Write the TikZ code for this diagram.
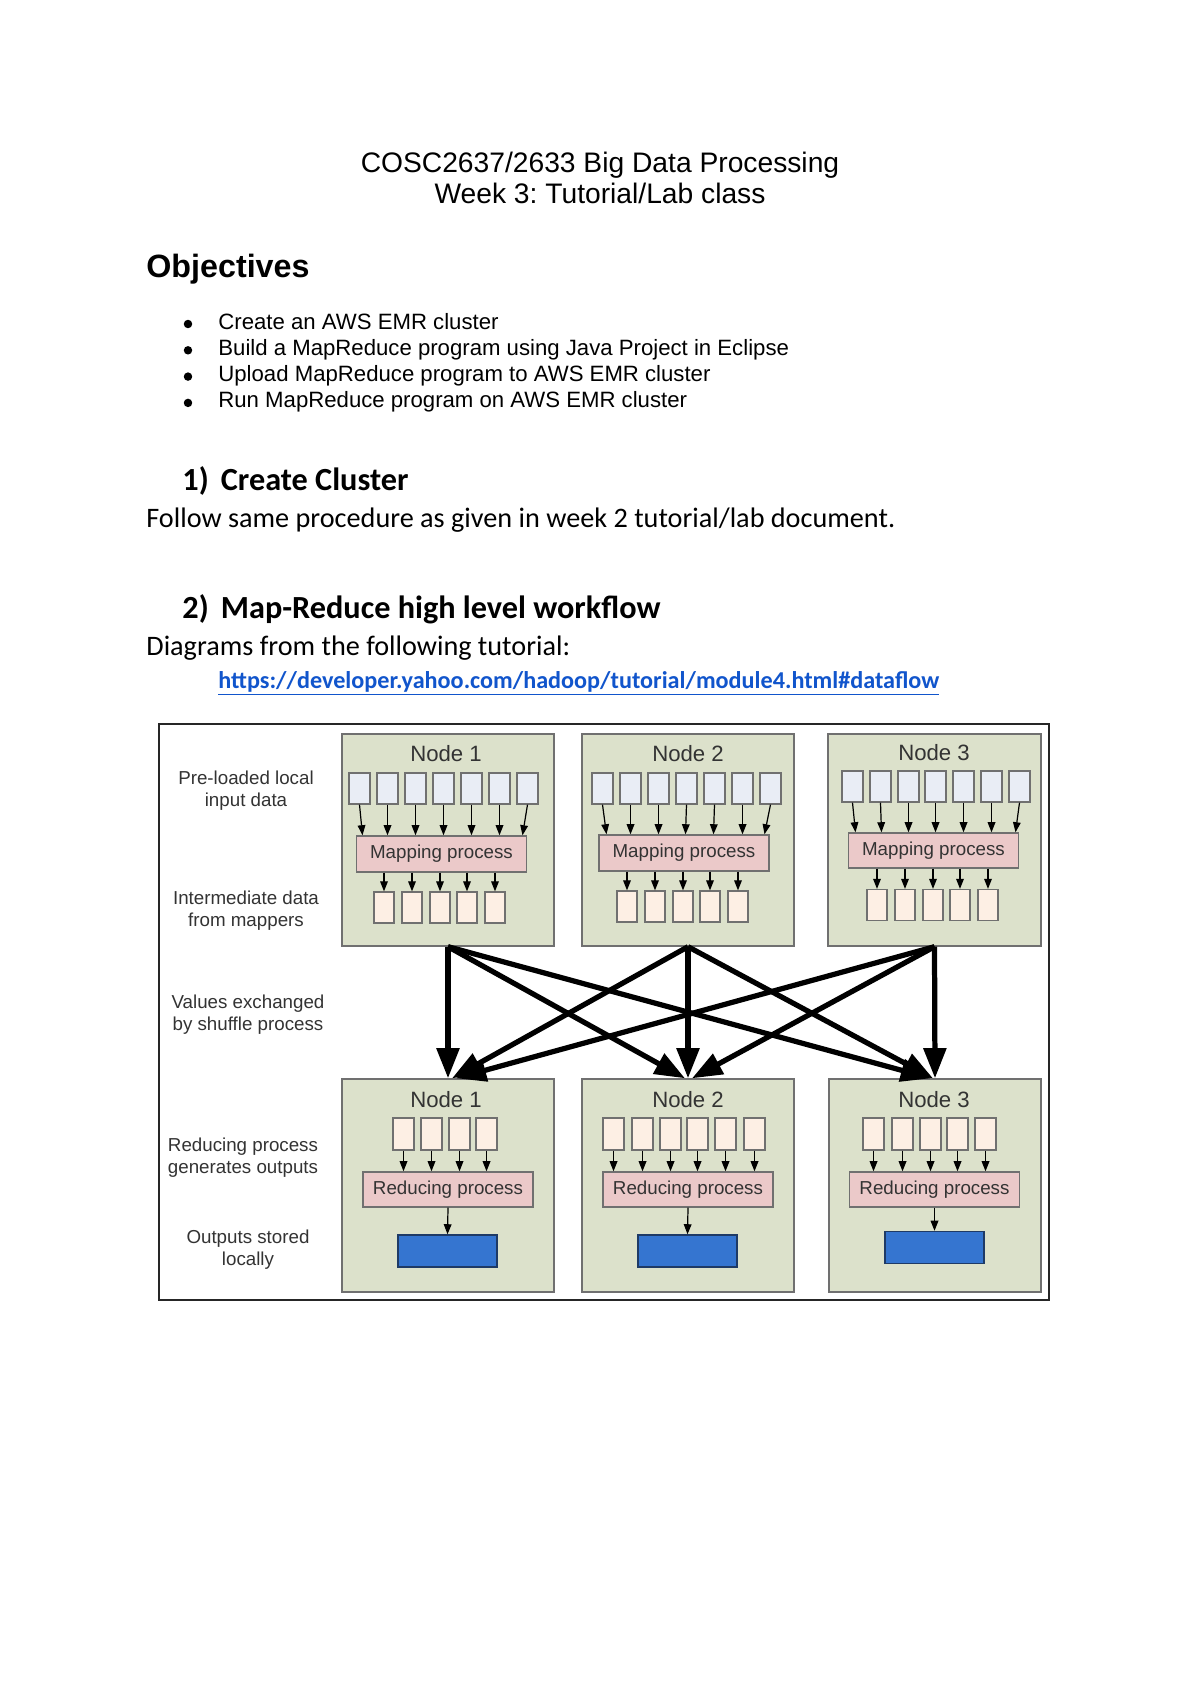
\documentclass[tikz,border=0pt]{standalone}
\usepackage{fontspec}
\setmainfont{Liberation Sans}
\newfontfamily\calib{Carlito}
\usetikzlibrary{arrows.meta,calc}
\frenchspacing
\newcommand{\mypx}{0.4961pt}
\definecolor{nodefill}{HTML}{DCE1CB}
\definecolor{nodeedge}{HTML}{707070}
\definecolor{infill}{HTML}{E9EDF5}
\definecolor{procfill}{HTML}{EBC9C9}
\definecolor{midfill}{HTML}{FDEFE4}
\definecolor{outfill}{HTML}{3575D0}
\definecolor{outedge}{HTML}{1E3A66}
\definecolor{linkblue}{HTML}{1155CC}
\definecolor{lbl}{HTML}{333333}
\tikzset{
  doc/.style={inner sep=0pt, anchor=base west},
  nodebox/.style={draw=nodeedge, fill=nodefill, line width=0.7pt, inner sep=0pt,
     minimum width=212*\mypx, minimum height=212*\mypx},
  nodetitle/.style={inner sep=0pt, text=lbl, font=\fontsize{11}{13}\selectfont},
  inbox/.style={draw=nodeedge, fill=infill, line width=0.6pt, inner sep=0pt,
     minimum width=21*\mypx, minimum height=31*\mypx},
  midbox/.style={draw=nodeedge, fill=midfill, line width=0.6pt, inner sep=0pt,
     minimum width=20*\mypx, minimum height=31*\mypx},
  redin/.style={draw=nodeedge, fill=midfill, line width=0.6pt, inner sep=0pt,
     minimum width=21*\mypx, minimum height=32*\mypx},
  procbox/.style={draw=nodeedge, fill=procfill, line width=0.7pt, inner sep=0pt,
     minimum width=170*\mypx, minimum height=36*\mypx, text=lbl,
     font=\fontsize{9.3}{11}\selectfont},
  outbox/.style={draw=outedge, fill=outfill, line width=0.7pt, inner sep=0pt,
     minimum width=99*\mypx, minimum height=32*\mypx},
  sarr/.style={line width=0.6pt, -{Triangle[length=5pt,width=3.8pt]}},
  barr/.style={line width=2.6pt, -{Triangle[length=15pt,width=11pt]}},
  sidelbl/.style={align=center, inner sep=0pt, text=lbl, font=\fontsize{9.3}{11}\selectfont},
}
\begin{document}
\begin{tikzpicture}[x=0.4961pt, y=-0.4961pt]
\useasboundingbox (0,0) rectangle (1200,1698);
\fill[white] (0,0) rectangle (1200,1698);

% ---------- document text ----------
\node[inner sep=0pt, anchor=base, font=\fontsize{14}{16}\selectfont] (title1) at (600,172) {COSC2637/2633 Big Data Processing};
\node[inner sep=0pt, anchor=base, font=\fontsize{14}{16}\selectfont] (title2) at (600,203.5) {Week 3: Tutorial/Lab class};
\node[doc, font=\bfseries\fontsize{16}{19}\selectfont] (obj) at (146,277) {Objectives};
\foreach \t [count=\k] in {Create an AWS EMR cluster,
  Build a MapReduce program using Java Project in Eclipse,
  Upload MapReduce program to AWS EMR cluster,
  Run MapReduce program on AWS EMR cluster} {
  \node[doc, font=\fontsize{11}{13}\selectfont] (bul\k) at (218,{329+26.3*(\k-1)}) {\t};
  \fill (188,{324+26.3*(\k-1)}) circle[radius=2.1pt];
}
\node[doc, font=\calib\bfseries\fontsize{16}{19}\selectfont] (h1) at (182,490) {1)\hspace{6pt}Create Cluster};
\node[doc, font=\calib\fontsize{14}{16}\selectfont] (p1) at (146,527) {Follow same procedure as given in week 2 tutorial/lab document.};
\node[doc, font=\calib\bfseries\fontsize{16}{19}\selectfont] (h2) at (182,618) {2)\hspace{6pt}Map-Reduce high level workflow};
\node[doc, font=\calib\fontsize{14}{16}\selectfont] (p2) at (146,655) {Diagrams from the following tutorial:};
\node[doc, text=linkblue, font=\calib\bfseries\fontsize{12}{14}\selectfont] (url) at (218,688) {\underline{https://developer.yahoo.com/hadoop/tutorial/module4.html\#dataflow}};

% ---------- diagram frame ----------
\draw[line width=1.2pt, draw=black!85] (159,724) rectangle (1049,1300);

% side labels
\node[sidelbl] (l1) at (246,790.5) {Pre-loaded local\\input data};
\node[sidelbl] (l2) at (246,911) {Intermediate data\\from mappers};
\node[sidelbl] (l3) at (248,1015) {Values exchanged\\by shuffle process};
\node[sidelbl] (l4) at (243,1158) {Reducing process\\generates outputs};
\node[sidelbl] (l5) at (248,1249.5) {Outputs stored\\locally};

% ---------- top nodes ----------
\node[nodebox] (T1) at (448,840) {};
\node[nodebox] (T2) at (688,840) {};
\node[nodebox, minimum width=213*\mypx] (T3) at (934.5,840) {};
\node[nodetitle] (T1t) at (446,754) {Node 1};
\node[nodetitle] (T2t) at (688,754) {Node 2};
\node[nodetitle] (T3t) at (934,753) {Node 3};

% mapping process boxes
\node[procbox] (M1) at (441.5,854) {Mapping process};
\node[procbox] (M2) at (684,853) {Mapping process};
\node[procbox, minimum height=35*\mypx] (M3) at (933.5,850.5) {Mapping process};

% input boxes + arrows
\foreach \x/\d [count=\k] in {349/3,377/0,405/0,433/0,461/0,489/0,517/-5} {
  \node[inbox] (A\k) at (\x+10.5,788.5) {};
  \draw[sarr] (A\k.south) -- ($(A\k.south |- M1.north)+(\d,0)$);
}
\foreach \x/\d [count=\k] in {592/4,620/0,648/0,676/-1,704/-1,732/0,760/-6} {
  \node[inbox] (B\k) at (\x+10.5,788.5) {};
  \draw[sarr] (B\k.south) -- ($(B\k.south |- M2.north)+(\d,0)$);
}
\foreach \x/\d [count=\k] in {842/3,870/1,898/0,925/0,953/0,981/0,1009/-4} {
  \node[inbox] (C\k) at (\x+10.5,786.5) {};
  \draw[sarr] (C\k.south) -- ($(C\k.south |- M3.north)+(\d,0)$);
}
% intermediate boxes + arrows
\foreach \x [count=\k] in {374,402,430,457,485} {
  \node[midbox] (D\k) at (\x+10,907.5) {};
  \draw[sarr] (D\k.north |- M1.south) -- (D\k.north);
}
\foreach \x [count=\k] in {617,645,673,700,728} {
  \node[midbox] (E\k) at (\x+10,906.5) {};
  \draw[sarr] (E\k.north |- M2.south) -- (E\k.north);
}
\foreach \x [count=\k] in {867,895,923,950,978} {
  \node[midbox] (F\k) at (\x+10,905) {};
  \draw[sarr] (F\k.north |- M3.south) -- (F\k.north);
}

% ---------- bottom nodes ----------
\node[nodebox, minimum height=213*\mypx] (R1) at (448,1185.5) {};
\node[nodebox, minimum height=213*\mypx] (R2) at (688,1185.5) {};
\node[nodebox, minimum height=213*\mypx] (R3) at (935,1185.5) {};
\node[nodetitle] (R1t) at (446,1100) {Node 1};
\node[nodetitle] (R2t) at (688,1100) {Node 2};
\node[nodetitle] (R3t) at (934,1100) {Node 3};

\node[procbox, minimum height=35*\mypx] (P1) at (448,1189.5) {Reducing process};
\node[procbox, minimum height=35*\mypx] (P2) at (688,1189.5) {Reducing process};
\node[procbox, minimum height=35*\mypx] (P3) at (934.5,1189.5) {Reducing process};

\foreach \x [count=\k] in {393,421,449,476} {
  \node[redin] (G\k) at (\x+10.5,1134) {};
  \draw[sarr] (G\k.south) -- (G\k.south |- P1.north);
}
\foreach \x [count=\k] in {603,632,660,687,715,744} {
  \node[redin] (H\k) at (\x+10.5,1134) {};
  \draw[sarr] (H\k.south) -- (H\k.south |- P2.north);
}
\foreach \x [count=\k] in {863,892,920,947,975} {
  \node[redin] (I\k) at (\x+10.5,1134) {};
  \draw[sarr] (I\k.south) -- (I\k.south |- P3.north);
}

\node[outbox] (O1) at (447.5,1251) {};
\node[outbox] (O2) at (687.5,1251) {};
\node[outbox] (O3) at (934.5,1247.5) {};
\draw[sarr] (P1.south) -- (O1.north);
\draw[sarr] (P2.south) -- (O2.north);
\draw[sarr] (P3.south) -- (O3.north);

% ---------- shuffle arrows ----------
\draw[barr] (T1.south) -- (R1.north);
\draw[barr] (T1.south) -- ($(R2.north)+(-3,0)$);
\draw[barr] (T1.south) -- ($(R3.north)+(-4,0)$);
\draw[barr] (T2.south) -- ($(R1.north)+(4,0)$);
\draw[barr] (T2.south) -- (R2.north);
\draw[barr] (T2.south) -- ($(R3.north)+(-2,0)$);
\draw[barr] (T3.south) -- ($(R1.north)+(8,0)$);
\draw[barr] (T3.south) -- ($(R2.north)+(4,0)$);
\draw[barr] (T3.south) -- (R3.north);
\end{tikzpicture}
\end{document}
